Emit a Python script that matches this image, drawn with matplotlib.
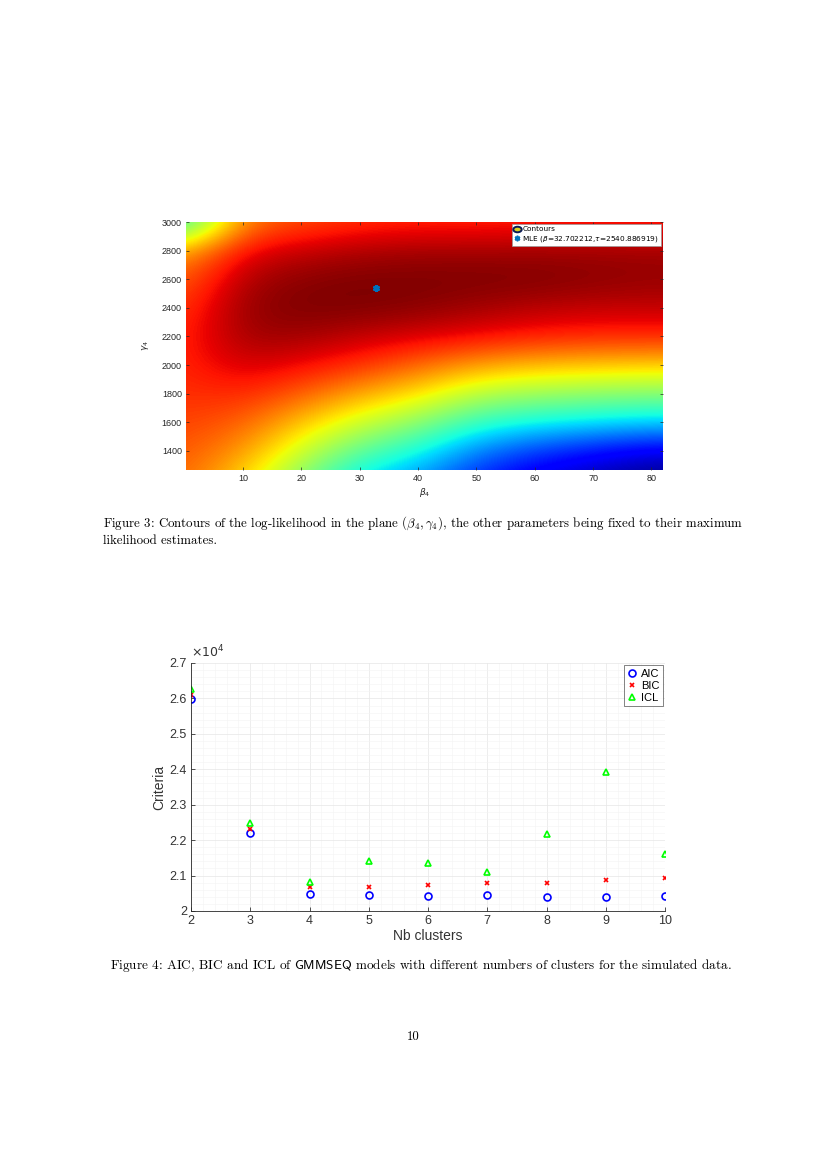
import numpy as np
import matplotlib
matplotlib.use("Agg")
import matplotlib.pyplot as plt
from matplotlib.path import Path
from matplotlib.ticker import FuncFormatter, MultipleLocator
from matplotlib.lines import Line2D

# ---------------- data: log-likelihood surface (normalised) -------------
beta_centers = [0, 10, 20, 30, 40, 50, 60, 70, 80]
gamma_centers = [1200, 1400, 1600, 1800, 2000, 2200, 2400, 2600, 2800, 3000]
loglik_rows = [
    [0.80, 0.68, 0.50, 0.33, 0.27, 0.15, 0.08, 0.04, 0.00],  # 1200
    [0.82, 0.75, 0.60, 0.46, 0.38, 0.25, 0.18, 0.13, 0.09],  # 1400
    [0.84, 0.81, 0.70, 0.60, 0.52, 0.41, 0.37, 0.35, 0.33],  # 1600
    [0.86, 0.87, 0.81, 0.73, 0.67, 0.57, 0.54, 0.52, 0.51],  # 1800
    [0.87, 0.93, 0.90, 0.86, 0.80, 0.74, 0.71, 0.70, 0.69],  # 2000
    [0.87, 0.97, 0.97, 0.94, 0.92, 0.90, 0.88, 0.87, 0.87],  # 2200
    [0.85, 0.98, 1.00, 1.00, 0.99, 0.97, 0.95, 0.94, 0.94],  # 2400
    [0.81, 0.96, 0.99, 1.00, 1.00, 1.00, 1.00, 0.99, 0.98],  # 2600
    [0.73, 0.91, 0.94, 0.96, 0.97, 0.97, 0.97, 0.97, 0.97],  # 2800
    [0.38, 0.78, 0.83, 0.86, 0.87, 0.87, 0.88, 0.88, 0.88],  # 3000
]
beta_range = (0.2, 82)
gamma_range = (1267, 3000)
mle_beta = 32.702212
mle_gamma = 2540.886919
heat_xticks = [10, 20, 30, 40, 50, 60, 70, 80]
heat_yticks = [1400, 1600, 1800, 2000, 2200, 2400, 2600, 2800, 3000]

# ---------------- data: criteria ----------------
nb_clusters = [2, 3, 4, 5, 6, 7, 8, 9, 10]
aic = [25980, 22210, 20480, 20440, 20410, 20440, 20390, 20400, 20410]
bic = [26090, 22320, 20670, 20690, 20720, 20790, 20800, 20870, 20930]
icl = [26280, 22470, 20830, 21420, 21360, 21100, 22160, 23930, 21620]
crit_yticks = [20000, 21000, 22000, 23000, 24000, 25000, 26000, 27000]

fig = plt.figure(figsize=(8.27, 11.69), dpi=100)
W, H = 827, 1169

def ax_rect(l, t, r, b):
    return [l / W, 1 - b / H, (r - l) / W, (b - t) / H]

# ---------------- Figure 3: heatmap ----------------
ax1 = fig.add_axes(ax_rect(186, 222, 663, 470))
Z = np.array(loglik_rows)
dx = beta_centers[1] - beta_centers[0]
dy = gamma_centers[1] - gamma_centers[0]
ext = [beta_centers[0] - dx / 2, beta_centers[-1] + dx / 2,
       gamma_centers[0] - dy / 2, gamma_centers[-1] + dy / 2]
ax1.imshow(Z, origin="lower", extent=ext, aspect="auto", cmap="jet", vmin=0, vmax=1,
           interpolation="bicubic", interpolation_stage="data")
ax1.set_xlim(*beta_range)
ax1.set_ylim(*gamma_range)
ax1.plot([mle_beta], [mle_gamma], linestyle="none", marker=(6, 2, 0), color="#0072BD",
         markersize=5, markeredgewidth=1.6)
ax1.plot([mle_beta], [mle_gamma], linestyle="none", marker="o", color="#0072BD",
         markersize=3)
ax1.set_xticks(heat_xticks)
ax1.set_yticks(heat_yticks)
ax1.tick_params(direction="in", length=2, width=0.5, labelsize=6.5, colors="#262626",
                top=True, right=True, pad=3)
for s in ax1.spines.values():
    s.set_visible(False)
ax1.set_xlabel(r"$\beta_4$", fontsize=6.5, color="#262626", labelpad=2)
ax1.set_ylabel(r"$\gamma_4$", fontsize=6.5, color="#262626", labelpad=8)
for lab in ax1.get_xticklabels() + ax1.get_yticklabels():
    lab.set_family("Liberation Sans")

ell = Path.unit_circle().transformed(matplotlib.transforms.Affine2D().scale(1.5, 1.0))
h_cont = Line2D([], [], linestyle="none", marker=ell, markersize=6,
                markerfacecolor="#d9d020", markeredgecolor="#0b1a55", markeredgewidth=1.4)
h_mle = Line2D([], [], linestyle="none", marker=(6, 2, 0), color="#0072BD",
               markersize=4, markeredgewidth=1.2)
leg1 = ax1.legend([h_cont, h_mle],
                  ["Contours", r"MLE ($\beta$=32.702212,$\tau$=2540.886919)"],
                  loc="upper right", frameon=True, fancybox=False,
                  borderpad=0.3, handlelength=0.8, handletextpad=0.3, labelspacing=0.2,
                  borderaxespad=0.25, prop={"family": "DejaVu Sans", "size": 5.3})
leg1.get_frame().set_edgecolor("#999999")
leg1.get_frame().set_linewidth(0.5)
leg1.get_frame().set_alpha(1)

# ---------------- Figure 4: criteria ----------------
ax2 = fig.add_axes(ax_rect(191, 663, 665, 911))
ax2.plot(nb_clusters, aic, linestyle="none", marker="o", markersize=5,
         markerfacecolor="none", markeredgecolor="#0000FF", markeredgewidth=1.2, label="AIC")
ax2.plot(nb_clusters, bic, linestyle="none", marker="x", markersize=3.5,
         color="#FF0000", markeredgewidth=1.2, label="BIC")
ax2.plot(nb_clusters, icl, linestyle="none", marker="^", markersize=5,
         markerfacecolor="none", markeredgecolor="#00FF00", markeredgewidth=1.2, label="ICL")
ax2.set_xlim(2, 10)
ax2.set_ylim(20000, 27000)
ax2.set_xticks(nb_clusters)
ax2.set_yticks(crit_yticks)
ax2.xaxis.set_minor_locator(MultipleLocator(0.2))
ax2.yaxis.set_minor_locator(MultipleLocator(200))
ax2.yaxis.set_major_formatter(FuncFormatter(lambda v, p: ("%g" % (v / 1e4))))
ax2.grid(which="major", color="#e6e6e6", linewidth=0.5)
ax2.grid(which="minor", color="#f3f3f3", linewidth=0.4)
ax2.set_axisbelow(True)
ax2.spines["top"].set_visible(False)
ax2.spines["right"].set_visible(False)
for s in ("left", "bottom"):
    ax2.spines[s].set_color("#262626")
    ax2.spines[s].set_linewidth(0.6)
ax2.tick_params(which="major", direction="in", length=3, width=0.6, labelsize=9,
                colors="#333333", pad=3)
ax2.tick_params(which="minor", length=0)
for lab in ax2.get_xticklabels() + ax2.get_yticklabels():
    lab.set_family("Liberation Sans")
ax2.set_xlabel("Nb clusters", fontsize=10, family="Liberation Sans", color="#333333",
               labelpad=1)
ax2.set_ylabel("Criteria", fontsize=10, family="Liberation Sans", color="#333333",
               labelpad=2)
ax2.text(0.0, 1.01, r"$\times 10^4$", transform=ax2.transAxes, fontsize=9,
         family="Liberation Sans", color="#333333", ha="left", va="bottom",
         math_fontfamily="dejavusans")
leg2 = ax2.legend(loc="upper right", frameon=True, fancybox=False,
                  borderpad=0.3, handlelength=0.9, handletextpad=0.35, labelspacing=0.2,
                  borderaxespad=0.2, prop={"family": "Liberation Sans", "size": 8})
leg2.get_frame().set_edgecolor("#262626")
leg2.get_frame().set_linewidth(0.5)

# ---------------- captions ----------------
cap_kw = dict(family="cmr10", fontsize=9.3, color="black", math_fontfamily="cm",
              ha="left", va="baseline")
fig.text(103 / W, 1 - 527 / H,
         r"Figure 3: Contours of the log-likelihood in the plane $(\beta_4, \gamma_4)$, "
         r"the other parameters being fixed to their maximum", **cap_kw)
fig.text(103 / W, 1 - 544 / H, "likelihood estimates.", **cap_kw)
cap4 = dict(cap_kw)
cap4["ha"] = "center"
cap4["fontsize"] = 9.5
fig.text(421 / W, 1 - 969 / H,
         r"Figure 4: AIC, BIC and ICL of $\mathsf{GMMSEQ}$ models with different numbers "
         r"of clusters for the simulated data.", **cap4)
cap5 = dict(cap_kw)
cap5["ha"] = "center"
fig.text(413 / W, 1 - 1040 / H, "10", **cap5)

fig.savefig("out.png", dpi=100)
